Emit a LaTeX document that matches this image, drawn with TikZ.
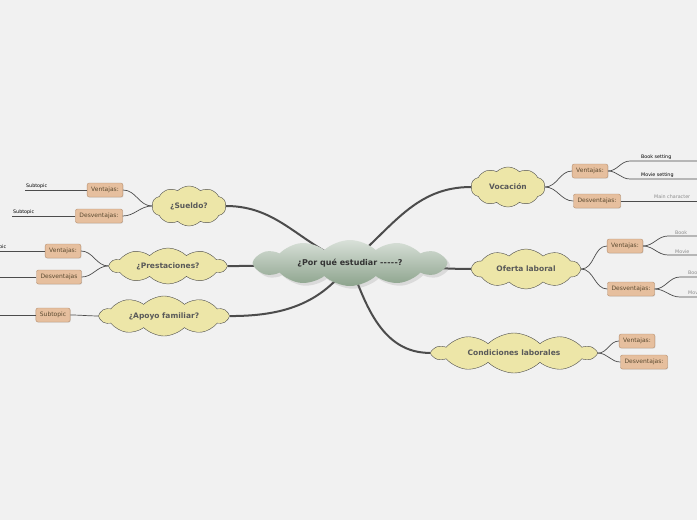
\documentclass[tikz,border=0pt]{standalone}
\usepackage{fontspec}
\setmainfont{DejaVu Sans}
\usetikzlibrary{shapes.symbols,shadows}
\definecolor{bg}{HTML}{F1F1F1}
\definecolor{cl}{HTML}{EDE6A8}
\definecolor{bx}{HTML}{E6BF9E}
\definecolor{bxd}{HTML}{B58E6E}
\definecolor{txt}{HTML}{5A4A30}
\tikzset{
 cld/.style={cloud, cloud puffs=10, cloud puff arc=90, cloud ignores aspect, draw=black!70, fill=cl, inner sep=0pt, font=\fontsize{7.5}{9}\selectfont\bfseries, text=black!65},
 boxn/.style={draw=bxd, fill=bx, rounded corners=2pt, font=\fontsize{6}{7}\selectfont, text=txt, inner xsep=4pt, minimum height=14pt, drop shadow={opacity=0.25,shadow xshift=0.6pt,shadow yshift=-0.6pt}},
 leaf/.style={font=\fontsize{4.8}{5}\selectfont, inner sep=1pt, anchor=south west},
 grey/.style={leaf, text=black!45},
 main/.style={line width=2pt, draw=black!70},
 br/.style={draw=black!70, line width=0.7pt},
}
\begin{document}
\begin{tikzpicture}[x=1pt,y=-1pt]
\useasboundingbox[fill=bg] (0,0) rectangle (697,520);
\coordinate (cc) at (350,263);
\node[cld, minimum width=74, minimum height=40] (s) at (189,206) {¿Sueldo?};
\node[cld, minimum width=116, minimum height=36] (p) at (168,266) {¿Prestaciones?};
\node[cld, minimum width=128, minimum height=40] (a) at (164,316) {¿Apoyo familiar?};
\node[cld, minimum width=74, minimum height=40] (v) at (508,187) {Vocación};
\node[cld, minimum width=108, minimum height=40] (o) at (526,269) {Oferta laboral};
\node[cld, minimum width=162, minimum height=40] (k) at (514,353) {Condiciones laborales};
\draw[main] (cc) to[out=160,in=0] (s.east);
\draw[main] (cc) to[out=180,in=0] (p.east);
\draw[main] (cc) to[out=235,in=0] (a.east);
\draw[main] (cc) to[out=40,in=180] (v.west);
\draw[main] (cc) to[out=0,in=180] (o.west);
\draw[main] (cc) to[out=-70,in=180] (k.west);
\node[cloud, cloud puffs=12, cloud puff arc=85, cloud ignores aspect, minimum width=195, minimum height=46, inner sep=0, draw=none,
  top color=green!20!black!15!white, bottom color=green!20!black!45!white, font=\fontsize{8}{9}\selectfont\bfseries, text=black!80,
  drop shadow={opacity=0.2}] (c) at (cc) {¿Por qué estudiar -\kern0.3pt-\kern0.3pt-\kern0.3pt-\kern0.3pt-?};
\node[boxn] (sv) at (105,190) {Ventajas:};
\node[boxn] (sd) at (99,216) {Desventajas:};
\node[boxn] (pv) at (63,251) {Ventajas:};
\node[boxn] (pd) at (59,277) {Desventajas};
\node[boxn] (as) at (53,315) {Subtopic};
\node[boxn] (vv) at (590,171) {Ventajas:};
\node[boxn] (vd) at (597,201) {Desventajas:};
\node[boxn] (ov) at (625,246) {Ventajas:};
\node[boxn] (od) at (631,289) {Desventajas:};
\node[boxn] (kv) at (637,341) {Ventajas:};
\node[boxn] (kd) at (644,362) {Desventajas:};
\foreach \a/\b in {s/sv,s/sd,p/pv,p/pd,a/as}{\draw[br] (\a.west) to[out=180,in=0] (\b.east);}
\foreach \a/\b in {v/vv,v/vd,o/ov,o/od,k/kv,k/kd}{\draw[br] (\a.east) to[out=0,in=180] (\b.west);}
\coordinate (l1) at (25,190); \coordinate (l2) at (12,216); \coordinate (l3) at (-5,251); \coordinate (l4) at (-5,277); \coordinate (l5) at (-5,315);
\draw[br] (sv.west) -- (l1); \draw[br] (sd.west) -- (l2); \draw[br] (pv.west) -- (l3); \draw[br] (pd.west) -- (l4); \draw[br] (as.west) -- (l5);
\node[leaf] at (l1) {Subtopic}; \node[leaf] at (l2) {Subtopic};
\node[leaf] at (-16,251) {Subtopic}; \node[leaf] at (-23,277) {Subtopic}; \node[leaf] at (-23,315) {Subtopic};
\coordinate (r1) at (630,161); \coordinate (r2) at (630,179);
\coordinate (r4) at (668,236); \coordinate (r5) at (668,255); \coordinate (r6) at (680,277); \coordinate (r7) at (680,297);
\draw[br] (vv.east) to[out=0,in=180] (r1) -- (700,161);
\draw[br] (vv.east) to[out=0,in=180] (r2) -- (700,179);
\draw[br] (vd.east) -- (700,201);
\draw[br] (ov.east) to[out=0,in=180] (r4) -- (700,236);
\draw[br] (ov.east) to[out=0,in=180] (r5) -- (700,255);
\draw[br] (od.east) to[out=0,in=180] (r6) -- (700,277);
\draw[br] (od.east) to[out=0,in=180] (r7) -- (700,297);
\node[leaf] at (640,161) {Book setting};
\node[leaf] at (640,179) {Movie setting};
\node[grey] at (653,200) {Main character};
\node[grey] at (674,236) {Book};
\node[grey] at (674,255) {Movie};
\node[grey] at (687,276) {Book};
\node[grey] at (687,296) {Movie};
\end{tikzpicture}
\end{document}
